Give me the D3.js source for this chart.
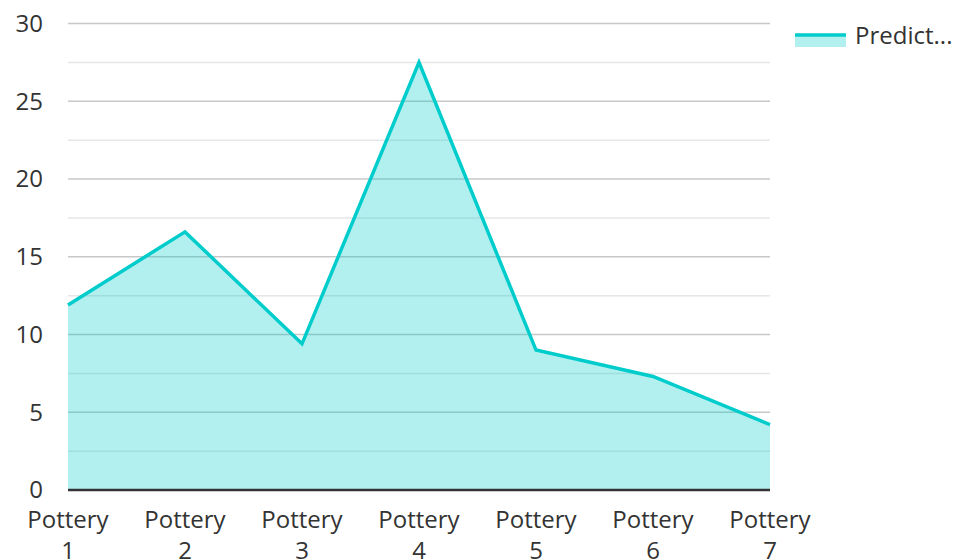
<!DOCTYPE html>
<html><head><meta charset="utf-8">
<script src="https://cdn.jsdelivr.net/npm/d3@7"></script>
<style>body{margin:0;background:#fff}svg{display:block}text{font-family:"Open Sans",sans-serif;fill:#333}</style>
</head><body><svg id="c" width="957" height="560"></svg>
<script>
const categories = ["Pottery 1","Pottery 2","Pottery 3","Pottery 4","Pottery 5","Pottery 6","Pottery 7"];
const values = [11.9, 16.6, 9.4, 27.5, 9.0, 7.3, 4.2];
const yTicks = [0,5,10,15,20,25,30];
const minorTicks = [2.5,7.5,12.5,17.5,22.5,27.5];
const seriesName = "Predict...";

const svg = d3.select("#c");
const L=68,R=770,T=23.5,B=490;
const x = d3.scalePoint().domain(categories).range([L,R]);
const y = d3.scaleLinear().domain([0,30]).range([B,T]);

const g = svg.append("g");
g.selectAll(".minor").data(minorTicks).join("line")
 .attr("x1",L).attr("x2",R).attr("y1",d=>y(d)).attr("y2",d=>y(d))
 .attr("stroke","#e6e6e6").attr("stroke-width",1.5);
g.selectAll(".major").data(yTicks.filter(d=>d>0)).join("line")
 .attr("x1",L).attr("x2",R).attr("y1",d=>y(d)).attr("y2",d=>y(d))
 .attr("stroke","#c8c8c8").attr("stroke-width",1.5);

const area = d3.area().x((d,i)=>x(categories[i])).y0(y(0)).y1(d=>y(d));
const line = d3.line().x((d,i)=>x(categories[i])).y(d=>y(d));
svg.append("path").datum(values).attr("d",area).attr("fill","rgba(0,204,204,0.3)");
svg.append("path").datum(values).attr("d",line).attr("fill","none").attr("stroke","#00cccc").attr("stroke-width",3.5).attr("stroke-linejoin","miter");

svg.append("line").attr("x1",L).attr("x2",R).attr("y1",B).attr("y2",B).attr("stroke","#333").attr("stroke-width",2.5);

svg.selectAll(".yl").data(yTicks).join("text")
 .attr("x",43).attr("y",d=>y(d)).attr("dy","0.35em").attr("text-anchor","end")
 .attr("font-size",24).text(d=>d);

const xl = svg.selectAll(".xl").data(categories).join("text")
 .attr("text-anchor","middle").attr("font-size",24);
xl.each(function(d){
  const parts=d.split(" ");
  const t=d3.select(this);
  parts.forEach((p,i)=>t.append("tspan").attr("x",x(d)).attr("y",528+i*31).text(p));
});

const lg = svg.append("g");
lg.append("rect").attr("x",795).attr("y",34).attr("width",51).attr("height",13).attr("fill","rgba(0,204,204,0.3)");
lg.append("line").attr("x1",795).attr("x2",846).attr("y1",35).attr("y2",35).attr("stroke","#00cccc").attr("stroke-width",3.5);
lg.append("text").attr("x",855).attr("y",36).attr("dy","0.35em").attr("font-size",24).text(seriesName);
</script></body></html>
